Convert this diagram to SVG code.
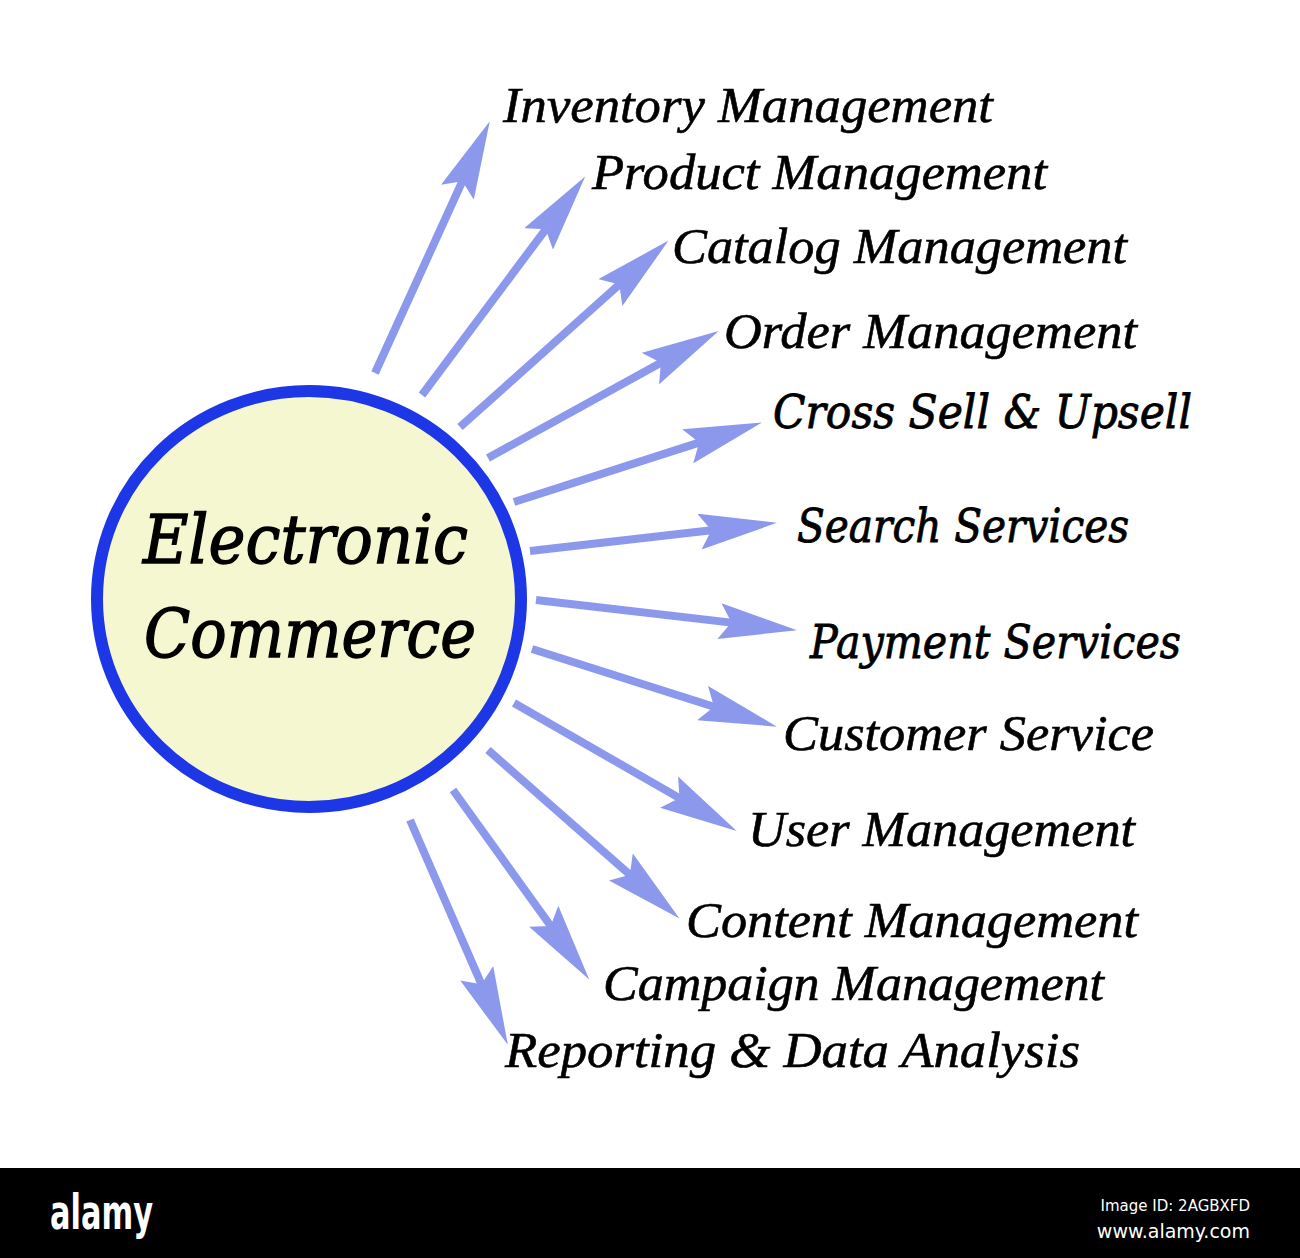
<svg xmlns="http://www.w3.org/2000/svg" width="1300" height="1258" viewBox="0 0 1300 1258">
<style>
.lbl{font-family:"Liberation Serif","Times New Roman",serif;font-style:italic;font-size:50px;fill:#000;stroke:#000;stroke-width:0.6;}
.wide{font-family:"DejaVu Serif","Liberation Serif",serif;font-style:italic;font-size:47px;fill:#000;stroke:#000;stroke-width:0.9;}
.hub{font-family:"DejaVu Serif","Liberation Serif",serif;font-style:italic;font-size:68px;fill:#000;stroke:#000;stroke-width:1.4;}
.arr{stroke:#8b98ec;stroke-width:8;fill:none;marker-end:url(#ah);}
</style>
<defs>
<marker id="ah" markerUnits="userSpaceOnUse" viewBox="0 0 78 36" refX="12" refY="18" markerWidth="78" markerHeight="36" orient="auto">
<path d="M0,0 L78,18 L0,36 L12,18 Z" fill="#8b98ec"/>
</marker>
</defs>
<rect x="0" y="0" width="1300" height="1258" fill="#fff"/>
<g id="connectors">
<line class="arr" x1="375" y1="373" x2="462.4" y2="181.2"/>
<line class="arr" x1="422" y1="395" x2="545.7" y2="229.3"/>
<line class="arr" x1="460" y1="427" x2="619.3" y2="284.6"/>
<line class="arr" x1="488" y1="458" x2="660.9" y2="362.8"/>
<line class="arr" x1="514" y1="502" x2="699.1" y2="442.6"/>
<line class="arr" x1="530" y1="551" x2="711.4" y2="530.3"/>
<line class="arr" x1="536" y1="600" x2="731.4" y2="622.6"/>
<line class="arr" x1="532" y1="649" x2="714" y2="706.7"/>
<line class="arr" x1="514" y1="703" x2="679.5" y2="798.1"/>
<line class="arr" x1="488" y1="750" x2="629.9" y2="874.8"/>
<line class="arr" x1="453" y1="790" x2="550.7" y2="926"/>
<line class="arr" x1="410" y1="820" x2="481.5" y2="984.3"/>
</g>
<g id="hub">
<ellipse cx="309" cy="599" rx="212" ry="208" fill="#f4f7cf" stroke="#1d36e6" stroke-width="12"/>
<text class="hub" x="143" y="563" textLength="325" lengthAdjust="spacingAndGlyphs">Electronic</text>
<text class="hub" x="144" y="657" textLength="332" lengthAdjust="spacingAndGlyphs">Commerce</text>
</g>
<g id="n1"><text class="lbl" x="503" y="122" textLength="490" lengthAdjust="spacingAndGlyphs">Inventory Management</text></g>
<g id="n2"><text class="lbl" x="592" y="189" textLength="455" lengthAdjust="spacingAndGlyphs">Product Management</text></g>
<g id="n3"><text class="lbl" x="672" y="263" textLength="455" lengthAdjust="spacingAndGlyphs">Catalog Management</text></g>
<g id="n4"><text class="lbl" x="724" y="348" textLength="413" lengthAdjust="spacingAndGlyphs">Order Management</text></g>
<g id="n5"><text class="wide" x="773" y="428" textLength="419" lengthAdjust="spacingAndGlyphs">Cross Sell &amp; Upsell</text></g>
<g id="n6"><text class="wide" x="797" y="542" textLength="332" lengthAdjust="spacingAndGlyphs">Search Services</text></g>
<g id="n7"><text class="wide" x="810" y="658" textLength="371" lengthAdjust="spacingAndGlyphs">Payment Services</text></g>
<g id="n8"><text class="lbl" x="783" y="750" textLength="371" lengthAdjust="spacingAndGlyphs">Customer Service</text></g>
<g id="n9"><text class="lbl" x="748" y="846" textLength="387" lengthAdjust="spacingAndGlyphs">User Management</text></g>
<g id="n10"><text class="lbl" x="686" y="937" textLength="452" lengthAdjust="spacingAndGlyphs">Content Management</text></g>
<g id="n11"><text class="lbl" x="603" y="1000" textLength="501" lengthAdjust="spacingAndGlyphs">Campaign Management</text></g>
<g id="n12"><text class="lbl" x="505" y="1067" textLength="575" lengthAdjust="spacingAndGlyphs">Reporting &amp; Data Analysis</text></g>
<g id="footer">
<rect x="0" y="1168" width="1300" height="90" fill="#000"/>
<text x="50" y="1229" font-family="DejaVu Sans, sans-serif" font-weight="bold" font-size="48" fill="#fff" textLength="103" lengthAdjust="spacingAndGlyphs">alamy</text>
<text x="1250" y="1211" font-family="DejaVu Sans, sans-serif" font-size="15" fill="#fff" text-anchor="end">Image ID: 2AGBXFD</text>
<text x="1250" y="1238" font-family="DejaVu Sans, sans-serif" font-size="19" fill="#fff" text-anchor="end">www.alamy.com</text>
</g>
</svg>
